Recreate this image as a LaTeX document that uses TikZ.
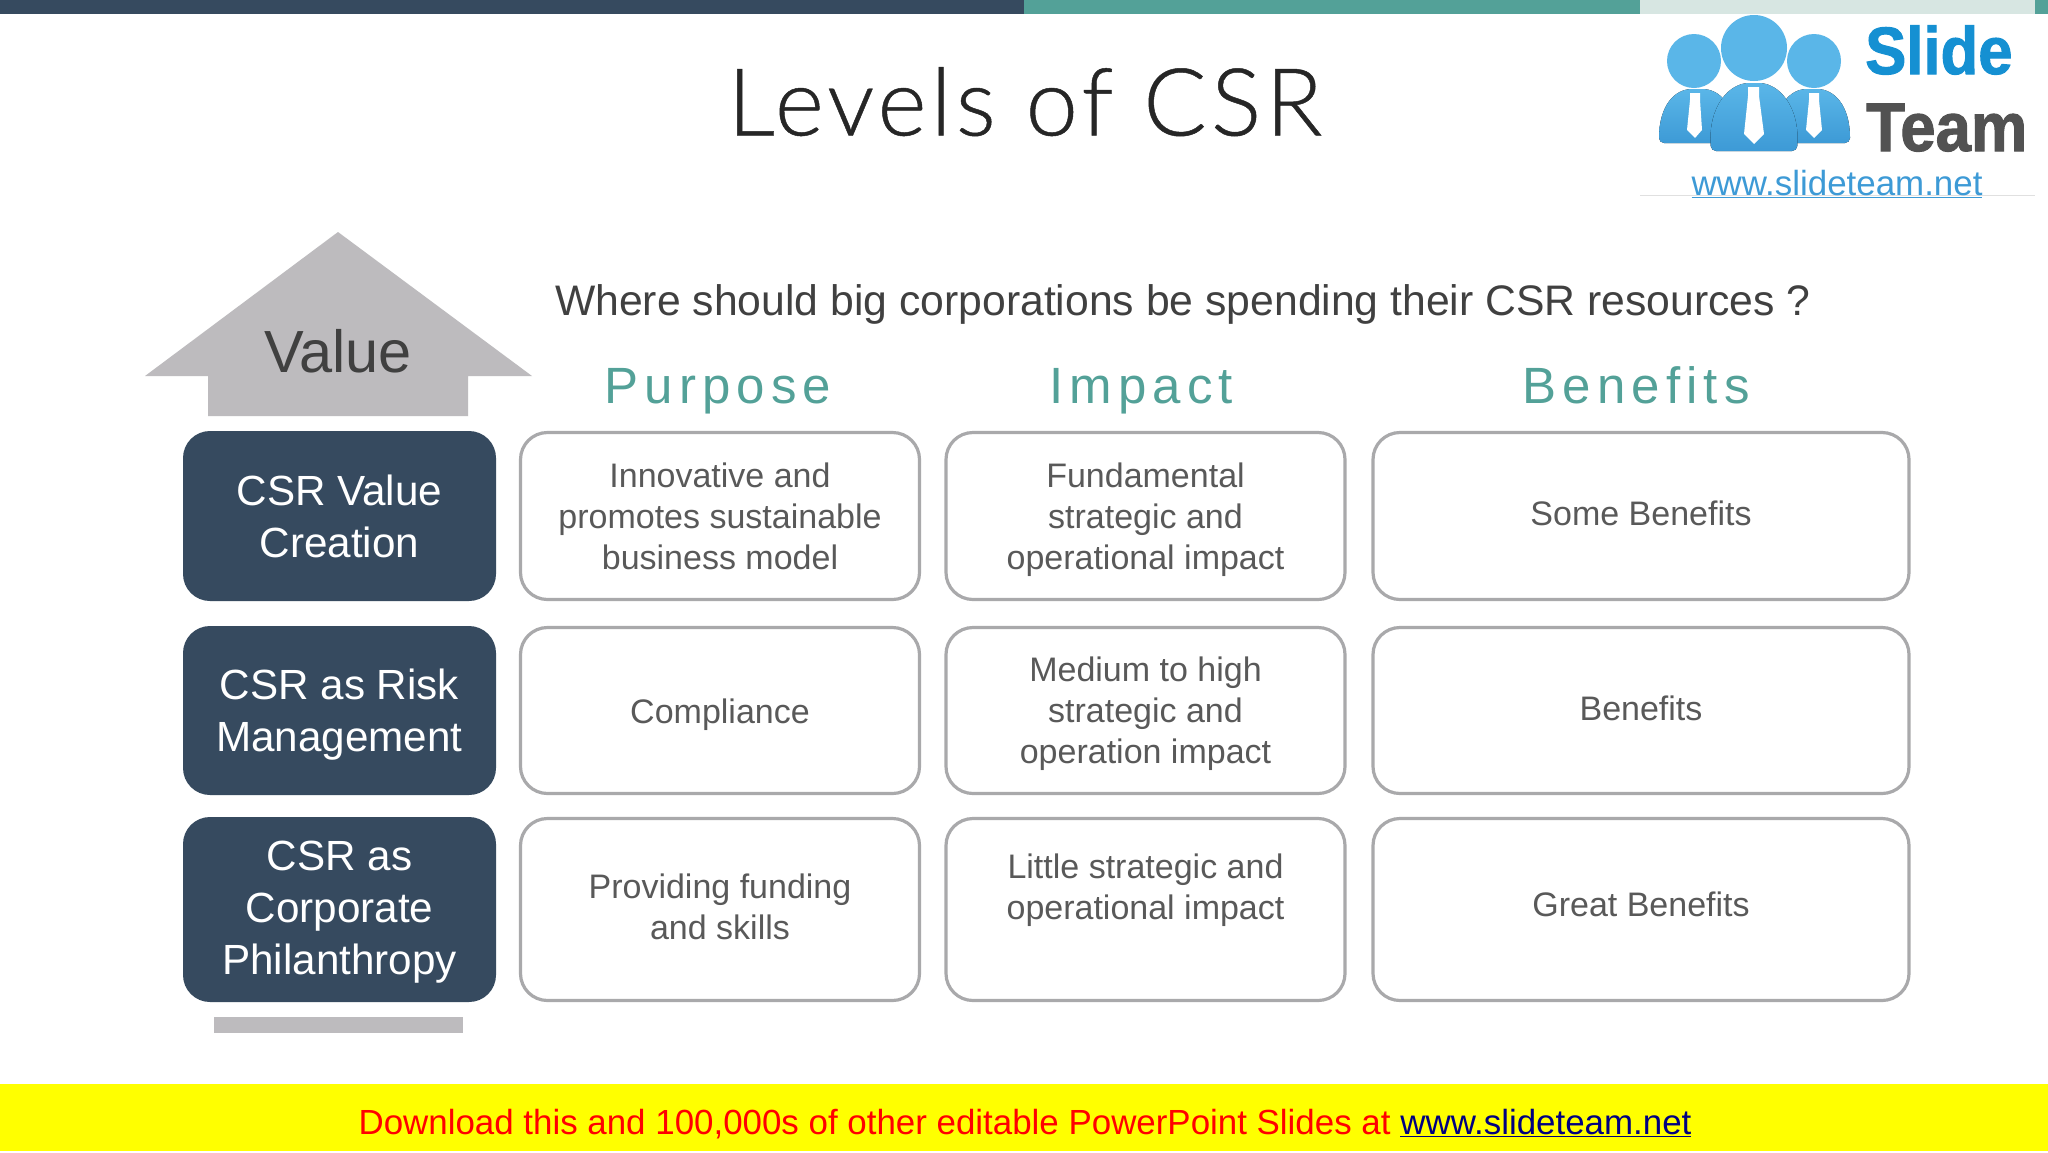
\documentclass[tikz,border=0pt]{standalone}
\usepackage{fontspec}
\setmainfont{Liberation Sans}
\newfontfamily\titlefont[LetterSpace=4.5, FakeBold=0.5]{Lato Light}
\newfontfamily\headfont[LetterSpace=12]{Liberation Sans}
\newfontfamily\logofont[FakeBold=1.5, FakeStretch=0.92]{Liberation Sans Bold}
\definecolor{navy}{HTML}{364A5F}
\definecolor{teal1}{HTML}{53A198}
\definecolor{teal2}{HTML}{D7E6E2}
\definecolor{stone}{HTML}{BDBBBE}
\definecolor{edge}{HTML}{A9A9AB}
\definecolor{ink}{HTML}{595959}
\definecolor{skyhi}{HTML}{5AB6E8}
\definecolor{skylo}{HTML}{3D9AD6}
\definecolor{slidetext}{HTML}{1590D2}
\definecolor{banner}{HTML}{FFFF00}
\definecolor{bannertext}{HTML}{FF0000}
\definecolor{linktext}{HTML}{000080}
\tikzset{
  rowbox/.style={fill=navy, text=white, rounded corners=27pt, minimum width=313pt, align=center,
    inner sep=0pt, font=\fontsize{42.2}{52}\selectfont},
  cellbox/.style={draw=edge, line width=3.2pt, rounded corners=27pt, align=center, inner sep=0pt,
    text=ink, font=\fontsize{34}{41}\selectfont},
  head/.style={text=teal1, anchor=base, inner sep=0pt, font=\headfont\fontsize{51}{60}\selectfont},
  skin/.style={top color=skyhi, bottom color=skylo},
  pushdown/.style={execute at begin node={\rule{0pt}{#1pt}}},
  pushup/.style={execute at end node={\rule[-#1pt]{0pt}{0pt}}},
}
\begin{document}
\begin{tikzpicture}[x=1pt, y=-1pt]
    \useasboundingbox (0, 0) rectangle (2048, 1152);
    \fill [white]    (0, 0) rectangle (2048, 1152);
    % top band
    \fill [navy]     (0, 0) rectangle (1024, 14);
    \fill [teal1]    (1024, 0) rectangle (2048, 14);
    \fill [teal2]    (1640, 0) rectangle (2035, 14);
    % title
    \node (title) [anchor=base, inner sep=0pt, text=black!85, font=\titlefont\fontsize{94}{110}\selectfont] at (1025, 135.5) {Levels of CSR};
    % logo
    \draw [black!12, line width=1pt] (1640, 195) -- (2035, 195);
    \fill [skin, rounded corners=5pt] (1659, 143) .. controls (1659, 105) and (1675, 89) .. (1697, 89) .. controls (1720, 89) and (1735, 105) .. (1735, 143) -- cycle;
    \fill [skin, rounded corners=5pt] (1850, 143) .. controls (1850, 105) and (1834, 89) .. (1812, 89) .. controls (1790, 89) and (1775, 105) .. (1775, 143) -- cycle;
    \fill [skin, rounded corners=5pt] (1711, 151) .. controls (1708, 105) and (1730, 83) .. (1754, 83) .. controls (1778, 83) and (1800, 105) .. (1797, 151) -- cycle;
    \fill [skyhi] (1694, 61) circle (27);
    \fill [skyhi] (1814, 61) circle (27);
    \fill [skyhi] (1754, 48) circle (33);
    \fill [white] (1690, 93) -- (1700, 93) -- (1700, 100) -- (1702, 130) -- (1695, 138) -- (1687, 130) -- (1690, 100) -- cycle;
    \fill [white] (1748, 87) -- (1759, 87) -- (1759, 96) -- (1764, 134) -- (1754, 144) -- (1744, 134) -- (1748, 96) -- cycle;
    \fill [white] (1809, 93) -- (1819, 93) -- (1819, 100) -- (1822, 130) -- (1814, 138) -- (1806, 130) -- (1809, 100) -- cycle;
    \node (slide) [anchor=base west, inner sep=0pt, text=slidetext, font=\logofont\fontsize{67}{70}\selectfont] at (1865, 74) {Slide};
    \node (team) [anchor=base west, inner sep=0pt, text=black!68, font=\logofont\fontsize{69}{70}\selectfont] at (1866, 151) {Team};
    \node (url) [anchor=base, inner sep=0pt, text=skylo, font=\fontsize{34.9}{40}\selectfont] at (1837, 195) {\underline{www.slideteam.net}};
    % value arrow
    \fill [stone]    (338, 232) -- (532, 376) -- (468, 376) -- (468, 416) -- (208, 416) -- (208, 376) -- (145, 376) -- cycle;
    \node (value) [anchor=base, inner sep=0pt, text=black!75, font=\fontsize{59.5}{60}\selectfont] at (338, 372) {Value};
    % question and headings
    \node (question) [anchor=base west, inner sep=0pt, text=black!75, font=\fontsize{42.7}{50}\selectfont] at (555, 315) {Where should big corporations be spending their CSR resources ?};
    \node (purpose) [head] at (718, 403.5) {Purpose};
    \node (impact) [head] at (1141, 403.5) {Impact};
    \node (benefits) [head] at (1636, 403.5) {Benefits};
    % R1
    \node (rowa) [rowbox, minimum height=170pt] at (339.5, 516) {CSR Value\\Creation};
    \node (pura) [cellbox, minimum width=399pt, minimum height=167pt] at (720, 516) {Innovative and\\promotes sustainable\\business model};
    \node (impa) [cellbox, minimum width=399pt, minimum height=167pt] at (1145.5, 516) {Fundamental\\strategic and\\\smash{operational impact}};
    \node (bena) [cellbox, pushup=5.2, minimum width=536pt, minimum height=167pt] at (1641, 516) {Some Benefits};
    % R2
    \node (rowb) [rowbox, minimum height=169pt] at (339.5, 710.5) {CSR as Risk\\\smash{Management}};
    \node (purb) [cellbox, pushdown=32.5, minimum width=399pt, minimum height=166pt] at (720, 710.5) {Compliance};
    \node (impb) [cellbox, minimum width=399pt, minimum height=166pt] at (1145.5, 710.5) {Medium to high\\strategic and\\\smash{operation impact}};
    \node (benb) [cellbox, pushup=5.2, minimum width=536pt, minimum height=166pt] at (1641, 710.5) {Benefits};
    % R3
    \node (rowc) [rowbox, pushup=3, minimum height=185pt] at (339.5, 909.5) {CSR as\\Corporate\\\smash{Philanthropy}};
    \node (purc) [cellbox, pushup=6, minimum width=399pt, minimum height=182pt] at (720, 909.5) {Providing funding\\and skills};
    \node (impc) [cellbox, pushup=4, minimum width=399pt, minimum height=182pt] at (1145.5, 909.5) {Little strategic and\\operational impact\\~};
    \node (benc) [cellbox, pushup=10.4, minimum width=536pt, minimum height=182pt] at (1641, 909.5) {Great Benefits};
    % foot of the column
    \fill [stone]    (214, 1017) rectangle (462.5, 1033);
    % banner
    \fill [banner]   (0, 1084) rectangle (2048, 1151);
    \node (footer) [anchor=base, inner sep=0pt, text=bannertext, font=\fontsize{34.9}{40}\selectfont] at (1025, 1134) {Download this and 100,000s of other editable PowerPoint Slides at \textcolor{linktext}{\underline{www.slideteam.net}}};
  \end{tikzpicture}
\end{document}
